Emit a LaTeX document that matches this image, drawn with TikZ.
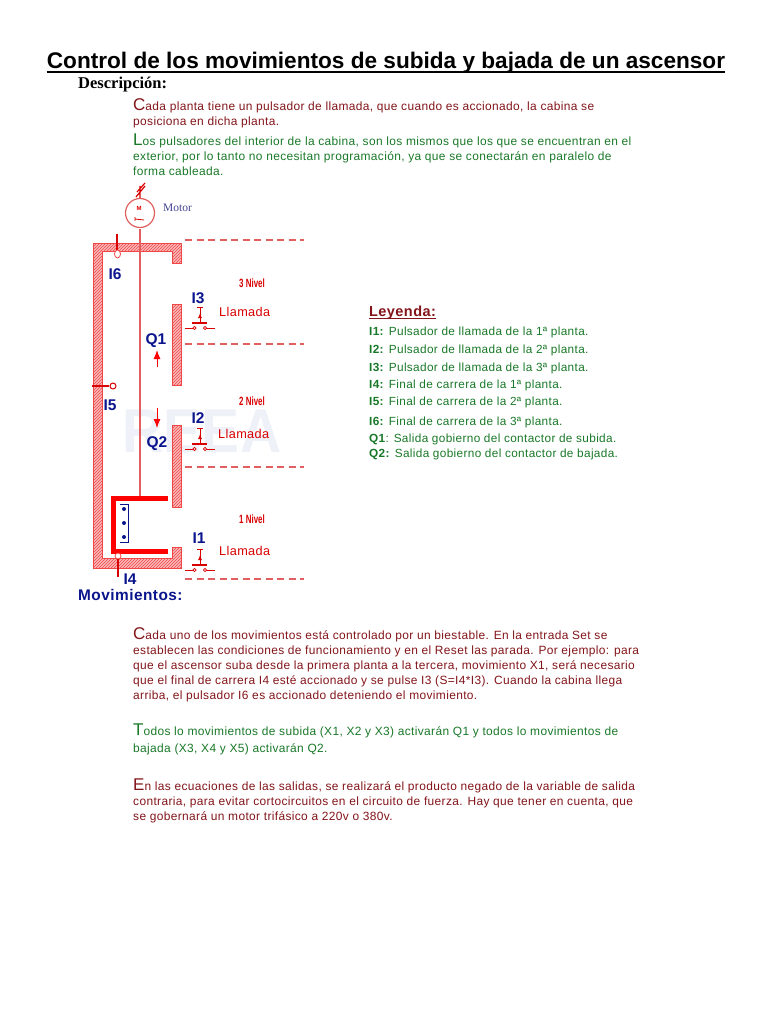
\documentclass[tikz,border=0pt]{standalone}
\usepackage{fontspec}
\setmainfont{Liberation Sans}
\newfontfamily\serifface{Liberation Serif}
\newfontfamily\spacedface[LetterSpace=3]{Liberation Sans}
\usetikzlibrary{patterns,arrows.meta}
\definecolor{wallred}{RGB}{240,70,70}
\definecolor{wallfill}{RGB}{250,185,185}
\definecolor{cablered}{RGB}{225,95,95}
\definecolor{textred}{RGB}{130,20,25}
\definecolor{textgreen}{RGB}{25,120,40}
\definecolor{navy}{RGB}{10,20,140}
\definecolor{motorblue}{RGB}{70,70,150}
\definecolor{marca}{RGB}{238,241,248}
\tikzset{
  wall/.style={draw=wallred,line width=.9pt,fill=wallfill,postaction={pattern=north east lines,pattern color=wallred}},
  level/.style={cablered,line width=1.1pt,dash pattern=on 7pt off 4.5pt},
  rojo/.style={red!85!black,line width=1pt},
  para/.style={anchor=base west,inner sep=0,font=\spacedface\fontsize{11.95}{12}\selectfont},
  redtext/.style={para,textred},
  greentext/.style={para,textgreen},
  legendtext/.style={para,textgreen,font=\spacedface\fontsize{11.8}{12}\selectfont},
  tag/.style={anchor=center,inner sep=0,navy,font=\bfseries\fontsize{15.5}{15}\selectfont},
  call/.style={anchor=base west,inner sep=0,red!85!black,font=\spacedface\fontsize{12.7}{13}\selectfont},
  nivel/.style={anchor=center,inner sep=0,red!85!black,xscale=.66,font=\bfseries\fontsize{12}{12}\selectfont},
}
\newcommand{\bigini}[1]{{\fontsize{17}{12}\selectfont #1}}
\newcommand{\pulsador}[2]{%
  \draw[rojo] (#1-3,#2) -- (#1+3,#2) (#1,#2) -- (#1,#2+15);
  \draw[rojo,-{Latex[length=5pt,width=4pt]}] (#1,#2+15) -- (#1,#2+6);
  \draw[rojo,line width=1.6pt] (#1-8,#2+16) -- (#1+7,#2+16);
  \draw[rojo,line width=.7pt] (#1-15,#2+21) -- (#1-7,#2+21) (#1+5,#2+21) -- (#1+15,#2+21);
  \draw[rojo,line width=.7pt,fill=white] (#1-5.5,#2+21) circle (1.6) (#1+5,#2+21) circle (1.6);
}
\begin{document}
\begin{tikzpicture}[x=1pt,y=-1pt]
    \useasboundingbox (0,0) rectangle (768,1024);

    % marca de agua
    \node[anchor=base,inner sep=0,marca,xscale=.92,font=\bfseries\fontsize{62}{62}\selectfont] (marca) at (202,452) {REEA};

    % titulo
    \node[anchor=base,inner sep=0,black,font=\bfseries\fontsize{22.6}{24}\selectfont] (title) at (386,69) {Control de los movimientos de subida y bajada de un ascensor};
    \draw[black,line width=1.2pt] ([yshift=-3pt]title.base west) -- ([yshift=-3pt]title.base east);
    \node[anchor=base west,inner sep=0,black,font=\serifface\bfseries\fontsize{16.5}{16}\selectfont] (descripcion) at (78,89) {Descripción:};

    \node[redtext] (d1) at (133,111) {\bigini{C}ada planta tiene un pulsador de llamada, que cuando es accionado, la cabina se};
    \node[redtext] (d2) at (133,126) {posiciona en dicha planta.};
    \node[greentext] (d3) at (133,146) {\bigini{L}os pulsadores del interior de la cabina, son los mismos que los que se encuentran en el};
    \node[greentext] (d4) at (133,161) {exterior, por lo tanto no necesitan programación, ya que se conectarán en paralelo de};
    \node[greentext] (d5) at (133,176) {forma cableada.};

    % paredes del hueco
    \draw[wall] (93.5,243) -- (181,243) -- (181,263) -- (172,263) -- (172,251) -- (102,251)
      -- (102,558) -- (172,558) -- (172,547) -- (181,547) -- (181,568) -- (93.5,568) -- cycle;
    \draw[wall] (172,304) rectangle (181,385);
    \draw[wall] (172,425) rectangle (181,507);

    % niveles
    \draw[level] (185,240) -- (304,240);
    \draw[level] (185,344) -- (304,344);
    \draw[level] (185,467) -- (304,467);
    \draw[level] (185,579) -- (304,579);

    % motor y cable
    \draw[cablered,line width=1.3pt] (140,229) -- (140,497);
    \draw[cablered,line width=1.2pt] (140,213) circle (14.5);
    \draw[rojo,line width=1.2pt] (140,186) -- (140,198) (136,197) -- (145,186) (137,192) -- (145,183);
    \node[anchor=center,inner sep=0,red!85!black,font=\bfseries\fontsize{6}{6}\selectfont] (m) at (139,208) {M};
    \draw[rojo,line width=.8pt] (135,217) -- (135,221) (135,219) -- (144,220);
    \node[anchor=base west,inner sep=0,motorblue,font=\serifface\fontsize{11.5}{12}\selectfont] (motor) at (163,212) {Motor};

    % cabina
    \draw[red,line width=5pt] (168,498.5) -- (113.5,498.5) -- (113.5,551) -- (168,551);
    \draw[navy,line width=1pt] (120,504) -- (128.5,504) -- (128.5,542) -- (120,542);
    \foreach \ypos in {509,523,537}
      \fill[navy] (124,\ypos) circle (2);

    % finales de carrera
    \draw[rojo,line width=1.2pt] (117,234) -- (117,250);
    \draw[wallred,fill=white,line width=.8pt] (117.5,254) ellipse (3 and 4);
    \draw[red!85!black,line width=2.4pt] (92,386) -- (109,386);
    \draw[rojo,fill=white] (113,386) circle (3);
    \draw[wallred,fill=white,line width=.8pt] (118,556) circle (3);
    \draw[rojo,line width=1.2pt] (118,559) -- (118,577);

    % pulsadores
    \pulsador{200}{307}
    \pulsador{200}{428}
    \pulsador{200}{549}

    % etiquetas
    \node[tag] (i6) at (115,274) {I6};
    \node[tag] (i5) at (110,405) {I5};
    \node[tag] (i4) at (130,579) {I4};
    \node[tag] (i3) at (198,298) {I3};
    \node[tag] (i2) at (198,418) {I2};
    \node[tag] (i1) at (199,538) {I1};
    \node[tag] (q1) at (156,341) {Q1};
    \node[tag] (q2) at (157,444) {Q2};
    \draw[red,line width=1pt,-{Latex[length=9pt,width=7pt]}] (157,367) -- (157,350);
    \draw[red,line width=1pt,-{Latex[length=9pt,width=7pt]}] (157,408) -- (157,428);

    \node[call] (ll3) at (219,316) {Llamada};
    \node[call] (ll2) at (218,438) {Llamada};
    \node[call] (ll1) at (219,555) {Llamada};
    \node[nivel] (n3) at (252,283) {3 Nivel};
    \node[nivel] (n2) at (252,401) {2 Nivel};
    \node[nivel] (n1) at (252,519) {1 Nivel};

    % leyenda
    \node[anchor=base west,inner sep=0,textred,font=\spacedface\bfseries\fontsize{14.5}{14}\selectfont] (leyenda) at (369,316) {Leyenda:};
    \draw[textred,line width=1pt] ([yshift=-2pt]leyenda.base west) -- ([yshift=-2pt]leyenda.base east);
    \node[legendtext] (l1) at (369,335) {\textbf{I1:} Pulsador de llamada de la 1ª planta.};
    \node[legendtext] (l2) at (369,353) {\textbf{I2:} Pulsador de llamada de la 2ª planta.};
    \node[legendtext] (l3) at (369,371) {\textbf{I3:} Pulsador de llamada de la 3ª planta.};
    \node[legendtext] (l4) at (369,388) {\textbf{I4:} Final de carrera de la 1ª planta.};
    \node[legendtext] (l5) at (369,405) {\textbf{I5:} Final de carrera de la 2ª planta.};
    \node[legendtext] (l6) at (369,425) {\textbf{I6:} Final de carrera de la 3ª planta.};
    \node[legendtext] (l7) at (369,442) {\textbf{Q1}: Salida gobierno del contactor de subida.};
    \node[legendtext] (l8) at (369,457) {\textbf{Q2:} Salida gobierno del contactor de bajada.};

    % movimientos
    \node[anchor=base west,inner sep=0,navy,font=\spacedface\bfseries\fontsize{15.4}{16}\selectfont] (movimientos) at (78,600) {Movimientos:};

    \node[redtext] (m1) at (133,639) {\bigini{C}ada uno de los movimientos está controlado por un biestable. En la entrada Set se};
    \node[redtext] (m2) at (133,654) {establecen las condiciones de funcionamiento y en el Reset las parada. Por ejemplo: para};
    \node[redtext] (m3) at (133,669) {que el ascensor suba desde la primera planta a la tercera, movimiento X1, será necesario};
    \node[redtext] (m4) at (133,684) {que el final de carrera I4 esté accionado y se pulse I3 (S=I4*I3). Cuando la cabina llega};
    \node[redtext] (m5) at (133,699) {arriba, el pulsador I6 es accionado deteniendo el movimiento.};

    \node[greentext] (m6) at (133,735) {\bigini{T}odos lo movimientos de subida (X1, X2 y X3) activarán Q1 y todos lo movimientos de};
    \node[greentext] (m7) at (133,752) {bajada (X3, X4 y X5) activarán Q2.};

    \node[redtext] (m8) at (133,790) {\bigini{E}n las ecuaciones de las salidas, se realizará el producto negado de la variable de salida};
    \node[redtext] (m9) at (133,805) {contraria, para evitar cortocircuitos en el circuito de fuerza. Hay que tener en cuenta, que};
    \node[redtext] (m10) at (133,820) {se gobernará un motor trifásico a 220v o 380v.};
\end{tikzpicture}
\end{document}
